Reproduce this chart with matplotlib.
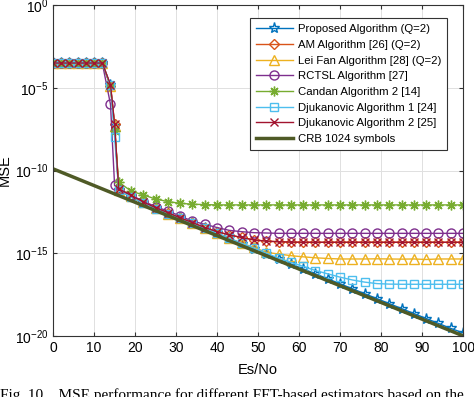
import matplotlib
matplotlib.use("Agg")
import matplotlib.pyplot as plt
import numpy as np

plt.rcParams['font.family'] = ['Liberation Sans', 'DejaVu Sans']

# Es/No grid (dB)
x = [0, 2, 4, 6, 8, 10, 12, 14, 15, 16] + list(range(19, 101, 3))

# log10(MSE)
plateau = [-3.5] * 7
proposed = plateau + [-4.85, -7.3, -11.2,
                      -11.6, -11.95, -12.25, -12.6, -12.9, -13.2, -13.5, -13.8, -14.1,
                      -14.45, -14.75, -15.05, -15.35, -15.65, -15.95, -16.25, -16.55,
                      -16.85, -17.15, -17.45, -17.75, -18.05, -18.35, -18.65, -18.95,
                      -19.25, -19.55, -19.82]
am = plateau + [-4.9, -7.2, -11.1,
                -11.5, -11.9, -12.25, -12.55, -12.87, -13.15, -13.45, -13.7, -13.9,
                -14.05, -14.2, -14.27, -14.31, -14.33, -14.34, -14.34, -14.34,
                -14.34, -14.34, -14.34, -14.34, -14.34, -14.34, -14.34, -14.34,
                -14.34, -14.34, -14.34]
leifan = plateau + [-4.9, -7.3, -11.2,
                    -11.55, -11.9, -12.25, -12.6, -12.9, -13.2, -13.5, -13.8, -14.1,
                    -14.4, -14.65, -14.95, -15.05, -15.15, -15.22, -15.28, -15.32,
                    -15.35, -15.35, -15.35, -15.34, -15.35, -15.36, -15.35, -15.38,
                    -15.35, -15.35, -15.35]
rctsl = plateau + [-6.0, -10.9, -11.15,
                   -11.5, -11.85, -12.19, -12.45, -12.75, -13.07, -13.25, -13.45, -13.62,
                   -13.7, -13.76, -13.78, -13.8, -13.8, -13.8, -13.8, -13.8,
                   -13.8, -13.8, -13.8, -13.8, -13.8, -13.8, -13.8, -13.8,
                   -13.8, -13.8, -13.8]
candan = plateau + [-4.9, -7.6, -10.7,
                    -11.24, -11.48, -11.72, -11.88, -11.98, -12.04, -12.06, -12.08, -12.08,
                    -12.08, -12.08, -12.08, -12.08, -12.08, -12.08, -12.08, -12.08,
                    -12.08, -12.08, -12.08, -12.08, -12.08, -12.08, -12.08, -12.08,
                    -12.08, -12.08, -12.08]
djuk1 = plateau + [-4.85, -8.0, -11.2,
                   -11.6, -11.95, -12.3, -12.6, -12.9, -13.2, -13.5, -13.8, -14.1,
                   -14.4, -14.7, -15.0, -15.3, -15.55, -15.8, -16.05, -16.25,
                   -16.45, -16.62, -16.75, -16.84, -16.87, -16.88, -16.88, -16.88,
                   -16.88, -16.88, -16.88]
djuk2 = plateau + [-4.8, -7.2, -11.1,
                   -11.5, -11.9, -12.25, -12.55, -12.87, -13.15, -13.45, -13.7, -13.9,
                   -14.05, -14.2, -14.27, -14.31, -14.33, -14.34, -14.34, -14.34,
                   -14.34, -14.34, -14.34, -14.34, -14.34, -14.34, -14.34, -14.34,
                   -14.34, -14.34, -14.34]
crb_x = [0, 100]
crb = [-9.9, -20.0]

labels = ['Proposed Algorithm (Q=2)', 'AM Algorithm [26] (Q=2)',
          'Lei Fan Algorithm [28] (Q=2)', 'RCTSL Algorithm [27]',
          'Candan Algorithm 2 [14]', 'Djukanovic Algorithm 1 [24]',
          'Djukanovic Algorithm 2 [25]', 'CRB 1024 symbols']

fig = plt.figure(figsize=(4.74, 3.97), dpi=100)
ax = fig.add_axes([0.112, 0.154, 0.865, 0.833])

series = [
    (proposed, '#0072BD', '*', 8),
    (am, '#D95319', 'D', 5),
    (leifan, '#EDB120', '^', 6.5),
    (rctsl, '#7E2F8E', 'o', 6.5),
    (candan, '#77AC30', (8, 2, 0), 7),
    (djuk1, '#4DBEEE', 's', 5.5),
    (djuk2, '#A2142F', 'x', 6),
]
for (vals, col, mk, ms), lab in zip(series, labels):
    ax.semilogy(x, 10.0 ** np.array(vals), color=col, marker=mk, markersize=ms,
                markerfacecolor='none', markeredgecolor=col, markeredgewidth=1.0,
                linewidth=1.0, label=lab)
ax.semilogy(crb_x, 10.0 ** np.array(crb), color='#4F5A26', linewidth=2.5, label=labels[7])

ax.set_xlim(0, 100)
ax.set_ylim(1e-20, 1)
ax.set_xticks(range(0, 101, 10))
ax.set_yticks([1e-20, 1e-15, 1e-10, 1e-5, 1])
ax.minorticks_off()
ax.grid(True, color='#e0e0e0', linewidth=0.7)
ax.set_axisbelow(True)
ax.tick_params(direction='in', top=True, right=True, labelsize=10, length=3,
               color='#333333')
for s in ax.spines.values():
    s.set_color('#333333')
    s.set_linewidth(0.8)
ax.set_xlabel('Es/No', fontsize=10.5, labelpad=6)
ax.set_ylabel('MSE', fontsize=10.5, labelpad=2)

leg = ax.legend(loc='upper right', bbox_to_anchor=(0.97, 0.97), fontsize=8.2,
                handlelength=3.2, handletextpad=0.5, fancybox=False, framealpha=1,
                edgecolor='#333333', borderpad=0.5, labelspacing=0.5,
                borderaxespad=0.3)
leg.get_frame().set_linewidth(0.8)

fig.text(0.0, -0.012, 'Fig. 10.   MSE performance for different FFT-based estimators based on the',
         family=['Liberation Serif', 'DejaVu Serif'], fontsize=11, va='bottom')

fig.savefig('out.png', dpi=100)
